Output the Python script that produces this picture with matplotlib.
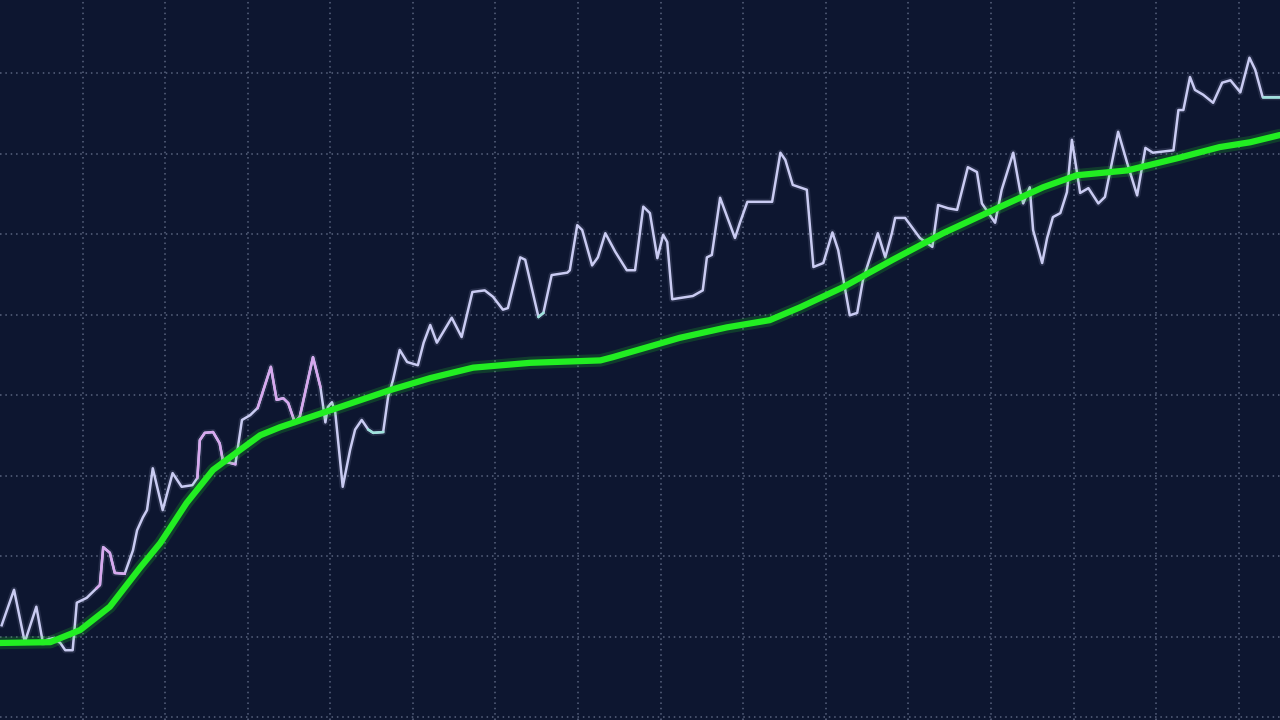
import numpy as np
import matplotlib.pyplot as plt

# jagged price series (time steps, price)
price_t = [0.2, 1.7, 3.0, 4.4, 5.2, 5.7, 6.4, 7.3, 7.9, 8.8, 9.3, 10.5, 11.7, 12.1, 12.5,
           13.3, 13.9, 15.1, 16.1, 16.6, 17.3, 17.8, 18.5, 19.7, 20.9, 22.0, 23.3, 23.9,
           24.2, 24.8, 25.8, 26.6, 27.0, 28.5, 29.3, 30.3, 31.2, 32.8, 33.5, 34.3, 34.9,
           35.7, 36.3, 37.9, 38.8, 39.4, 39.7, 40.2, 40.6, 41.5, 42.4, 43.0, 43.8, 44.6,
           45.2, 46.4, 47.0, 47.6, 48.4, 49.3, 50.6, 51.3, 52.1, 52.9, 54.7, 55.9, 57.2,
           58.7, 59.7, 60.9, 61.5, 63.0, 63.6, 65.2, 65.8, 66.8, 68.7, 69.0, 69.9, 70.5,
           71.7, 72.4, 73.3, 74.5, 75.9, 76.9, 77.9, 78.7, 79.6, 80.3, 80.8, 81.4, 83.9,
           85.1, 85.6, 86.2, 87.2, 89.0, 89.6, 90.5, 93.5, 94.5, 95.1, 96.0, 97.7, 98.5,
           99.7, 100.8, 101.5, 102.9, 103.8, 104.5, 106.3, 107.2, 108.0, 108.4, 109.6,
           111.4, 112.9, 113.6, 114.8, 115.9, 117.2, 118.3, 118.9, 120.5, 121.3, 122.7,
           123.5, 123.9, 124.7, 125.1, 126.2, 126.8, 127.5, 128.4, 129.2, 129.8, 130.8,
           131.8, 133.0, 133.8, 135.4, 136.5, 137.7, 138.7, 139.6, 142.1, 142.7, 143.3,
           144.1, 144.7, 145.7, 146.9, 148.0, 149.0, 150.2, 151.3, 152.0, 152.9, 155.0]
price = [111.4, 115.8, 109.3, 113.7, 109.2, 109.6, 109.8, 109.2, 108.3, 108.3, 114.2, 114.8,
         116.0, 116.4, 121.1, 120.4, 117.9, 117.8, 120.7, 123.2, 124.8, 125.7, 130.9, 125.7,
         130.3, 128.6, 128.8, 129.7, 134.4, 135.3, 135.4, 134.0, 131.8, 131.4, 136.9, 137.5,
         138.4, 143.5, 139.4, 139.6, 139.0, 136.6, 137.3, 144.7, 141.0, 136.6, 138.5, 139.1,
         137.8, 128.6, 133.2, 135.7, 136.9, 135.7, 135.3, 135.4, 139.8, 141.9, 145.6, 144.1,
         143.7, 146.5, 148.7, 146.5, 149.6, 147.2, 152.8, 153.0, 152.2, 150.6, 150.8, 157.1,
         156.8, 149.7, 150.2, 154.9, 155.2, 155.5, 161.1, 160.5, 156.1, 157.1, 160.1, 157.8,
         155.5, 155.5, 163.4, 162.6, 157.0, 159.9, 159.0, 151.9, 152.3, 153.0, 157.1, 157.4,
         164.5, 159.5, 161.4, 164.0, 164.0, 170.1, 169.2, 166.1, 165.5, 155.9, 156.4, 160.2,
         158.0, 149.9, 150.2, 154.3, 160.1, 157.1, 160.1, 162.0, 162.0, 159.5, 158.4, 163.6,
         163.2, 163.0, 168.3, 167.7, 163.8, 161.4, 165.5, 170.1, 165.5, 163.8, 165.8, 160.5,
         156.4, 159.5, 162.1, 162.6, 165.2, 171.7, 165.1, 165.7, 163.8, 164.6, 172.7, 168.8,
         164.8, 170.7, 170.1, 170.4, 175.4, 175.4, 179.5, 177.9, 177.3, 176.3, 178.8, 179.1,
         177.6, 181.9, 180.4, 177.0, 177.0]

# smooth trend line
trend_t = [0, 6.1, 9.7, 13.3, 17.0, 19.4, 22.6, 25.8, 29.1, 31.5, 33.9, 40.0, 47.2, 52.1,
           57.3, 64.2, 72.7, 74.2, 82.3, 88.0, 93.2, 96.9, 102.1, 108.1, 114.2, 120.3,
           126.3, 130.4, 136.5, 142.5, 147.7, 151.4, 155.0]
trend = [109.2, 109.3, 110.8, 113.7, 118.6, 121.6, 126.6, 130.7, 133.2, 135.0, 136.0, 138.1,
         140.6, 142.1, 143.4, 144.0, 144.3, 144.7, 147.1, 148.4, 149.3, 150.9, 153.4, 156.8,
         160.1, 163.0, 165.8, 167.3, 167.9, 169.4, 170.8, 171.4, 172.3]

bg = '#0d1630'
line_col = '#c9cbf2'
# tinted stretches of the price line
tints = [(11.5, 15.7, '#d7a8ee'), (23.6, 28.5, '#d7a8ee'), (30.9, 38.8, '#d7a8ee'),
         (44.2, 46.6, '#9ee3dc'), (64.6, 66.0, '#9ee3dc'), (152.3, 155.0, '#9ee3dc')]

fig = plt.figure(figsize=(12.8, 7.2), dpi=100, facecolor=bg)
ax = fig.add_axes([0, 0, 1, 1], facecolor=bg)

pt = np.array(price_t)
py = np.array(price)
ax.plot(pt, py, color=line_col, lw=4.5, alpha=0.12, solid_capstyle='round')
ax.plot(pt, py, color=line_col, lw=1.8, solid_joinstyle='round')
for a, b, c in tints:
    ax.plot(pt, np.where((pt >= a) & (pt <= b), py, np.nan), color=c, lw=1.8)

ax.plot(trend_t, trend, color='#22ee22', lw=9, alpha=0.18, solid_capstyle='round')
ax.plot(trend_t, trend, color='#22ee22', lw=4.5, solid_capstyle='round', solid_joinstyle='round')

ax.set_xlim(0, 155)
ax.set_ylim(99.63, 189.07)
ax.set_xticks(np.arange(10, 155, 10))
ax.set_yticks(np.arange(100, 190, 10))
ax.grid(True, color='#66718c', lw=1.1, linestyle=(0, (1, 2.5)), alpha=0.85)
ax.set_axisbelow(True)
ax.tick_params(length=0, labelbottom=False, labelleft=False)
for s in ax.spines.values():
    s.set_visible(False)

fig.savefig('out.png', dpi=100, facecolor=bg)
